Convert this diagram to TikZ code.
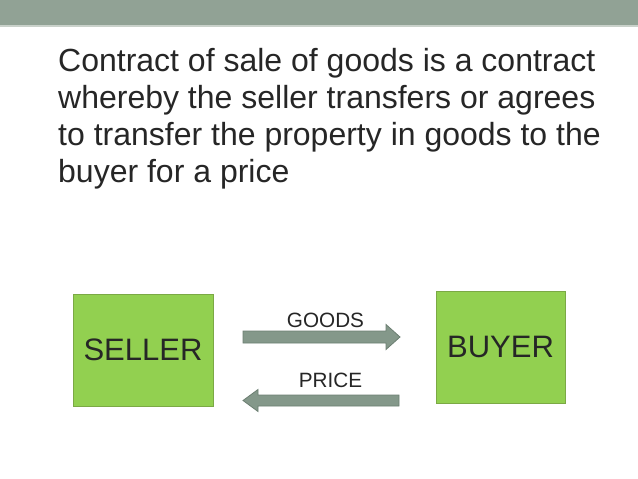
\documentclass[tikz,border=0pt]{standalone}
\usepackage{fontspec}
\setmainfont{Liberation Sans}
\usetikzlibrary{calc}
\definecolor{barcol}{HTML}{91A295}
\definecolor{barline}{HTML}{C9D1CA}
\definecolor{boxfill}{HTML}{92D050}
\definecolor{boxedge}{HTML}{7BA945}
\definecolor{arrfill}{HTML}{84988A}
\definecolor{arredge}{HTML}{6C7F72}
\definecolor{txt}{HTML}{262626}
\tikzset{
  partybox/.style={draw=boxedge, line width=1pt, fill=boxfill, inner sep=0pt,
    text=txt, font=\fontsize{31}{31}\selectfont},
  flowlabel/.style={inner sep=0pt, text=txt, font=\fontsize{20.7}{21}\selectfont, anchor=base},
  blockarrow/.style={draw=arredge, line width=0.8pt, fill=arrfill, line join=miter}
}
\begin{document}
\begin{tikzpicture}[x=1pt,y=-1pt]
\useasboundingbox (0,0) rectangle (638,479);
\fill[white] (0,0) rectangle (638,479);
\fill[barcol] (0,0) rectangle (638,25);
\fill[barline] (0,25) rectangle (638,26.5);

\node[anchor=base west, inner sep=0pt, text=txt, align=left,
      font=\fontsize{32}{37}\selectfont] (title) at (58,182)
  {Contract of sale of goods is a contract\\
   whereby the seller transfers or agrees\\
   to transfer the property in goods to the\\
   buyer for a price};

\node[partybox, minimum width=140pt, minimum height=112pt] (seller) at (143,350) {SELLER};
\node[partybox, minimum width=129pt, minimum height=112pt] (buyer) at (500.5,347) {BUYER};

% GOODS arrow (left to right)
\coordinate (gtail) at (243,337);
\coordinate (gtip) at (400,337);
\draw[blockarrow] ($(gtail)+(0,-6)$) -- ($(gtip)+(-14,-6)$) -- ($(gtip)+(-14,-12.5)$) -- (gtip)
  -- ($(gtip)+(-14,12.5)$) -- ($(gtip)+(-14,6)$) -- ($(gtail)+(0,6)$) -- cycle;
% PRICE arrow (right to left)
\coordinate (ptail) at (399,400.5);
\coordinate (ptip) at (243,400.5);
\draw[blockarrow] ($(ptail)+(0,-5.5)$) -- ($(ptip)+(15,-5.5)$) -- ($(ptip)+(15,-11)$) -- (ptip)
  -- ($(ptip)+(15,11)$) -- ($(ptip)+(15,5.5)$) -- ($(ptail)+(0,5.5)$) -- cycle;

\node[flowlabel] (goods) at (325.5,327) {GOODS};
\node[flowlabel] (price) at (330.5,387) {PRICE};
\end{tikzpicture}
\end{document}
